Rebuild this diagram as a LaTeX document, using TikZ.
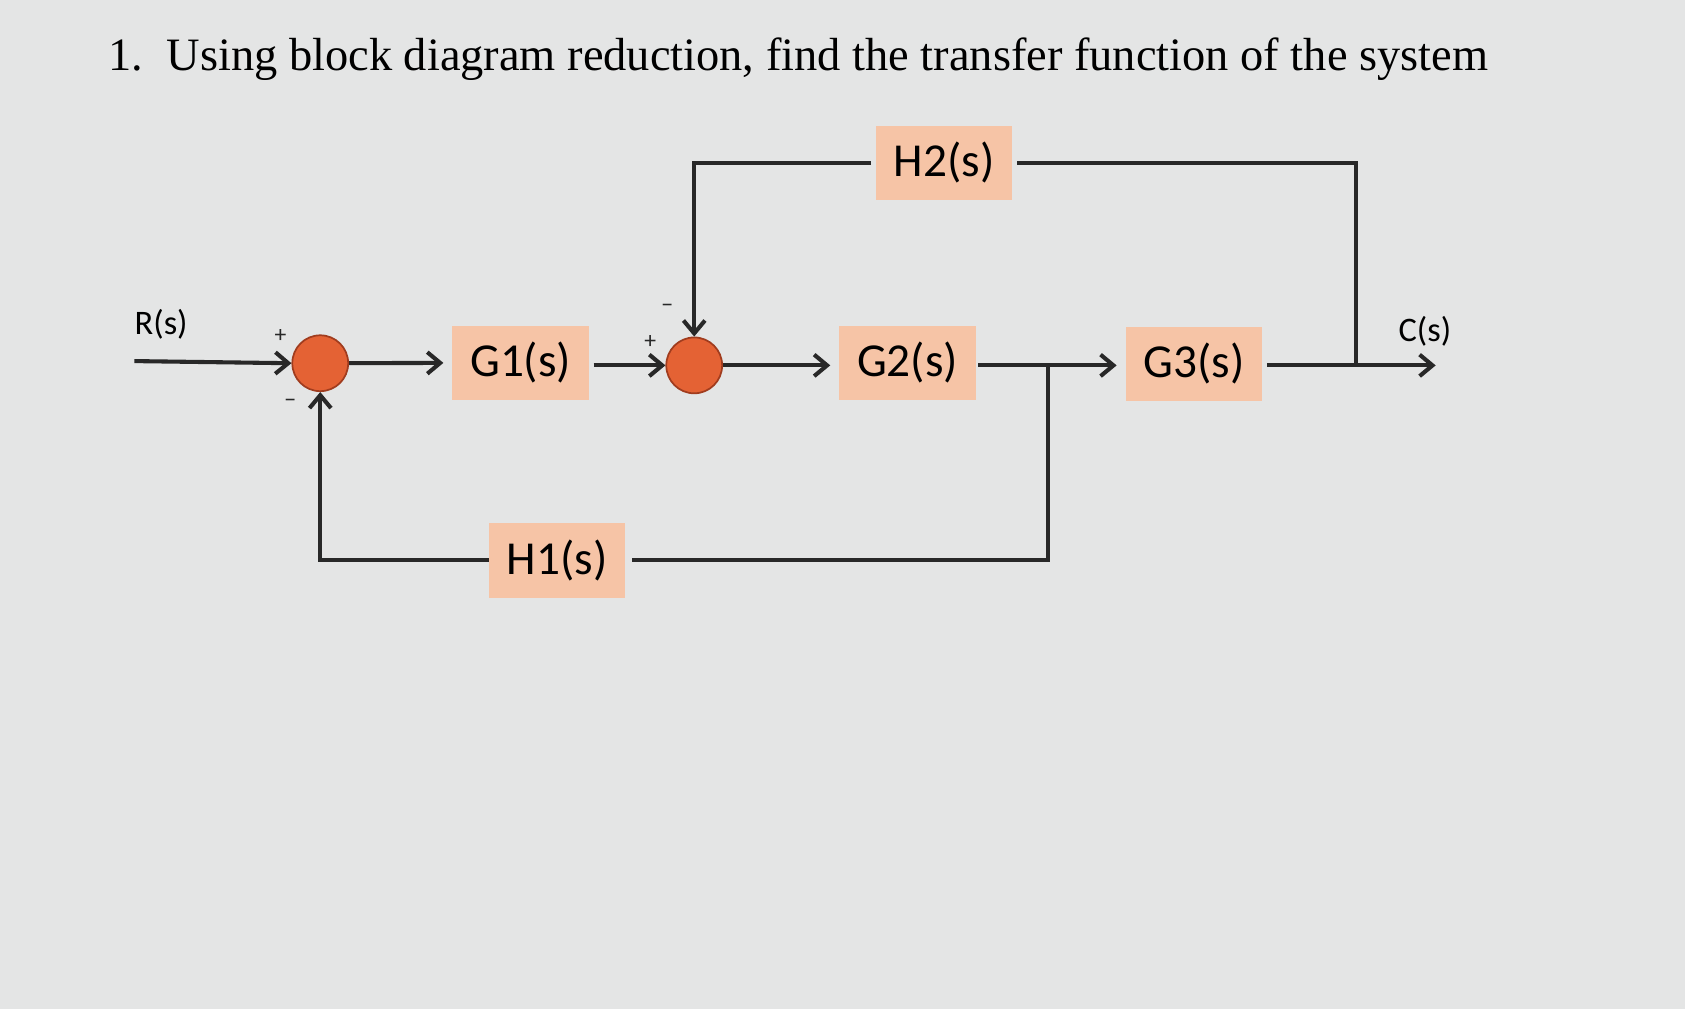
\documentclass[tikz,border=0pt]{standalone}
\usepackage{fontspec}
\setmainfont{Liberation Serif}
\newfontfamily\calib{Carlito}
\usetikzlibrary{arrows.meta}
\definecolor{bg}{RGB}{228,229,229}
\definecolor{peach}{RGB}{246,196,166}
\definecolor{sumc}{RGB}{228,98,52}
\definecolor{sumd}{RGB}{160,60,30}
\definecolor{ln}{RGB}{40,40,40}
\begin{document}
\begin{tikzpicture}[x=0.5pt,y=-0.5pt,
  blk/.style={fill=peach,minimum width=63.5pt,minimum height=34.5pt,inner sep=0pt,font=\calib\fontsize{22}{24}\selectfont},
  sumn/.style={circle,fill=sumc,draw=sumd,line width=0.8pt,minimum size=26pt,inner sep=0pt},
  wire/.style={draw=ln,line width=1.9pt},
  arr/.style={wire,-{Straight Barb[length=6pt,width=10pt,line width=1.9pt]}},
  lab/.style={font=\calib\fontsize{16}{18}\selectfont},
  sgn/.style={font=\calib\fontsize{11}{12}\selectfont,text=ln}]
\fill[bg] (0,0) rectangle (1568,939);
\useasboundingbox (0,0) rectangle (1568,939);
\node[anchor=base west,font=\fontsize{21.6}{26}\selectfont] (title) at (94,66) {1.\ \ Using block diagram reduction, find the transfer function of the system};
\node[sumn] (s1) at (298,338) {};
\node[sumn] (s2) at (646,340) {};
\node[blk] (g1) at (484.5,337.5) {G1(s)};
\node[blk] (g2) at (844.5,337.5) {G2(s)};
\node[blk] (g3) at (1111,338.5) {G3(s)};
\node[blk] (h2) at (878.5,151.5) {H2(s)};
\node[blk] (h1) at (518.5,521.5) {H1(s)};
\coordinate (rin) at (125,336);
\coordinate (cout) at (1336,340);
\coordinate (b1) at (975,340);
\coordinate (b2) at (1262,340);
\node[lab] (rl) at (150,302) {R(s)};
\node[lab] (cl) at (1326,308) {C(s)};
\node[sgn] (p1) at (261,313) {+};
\node[sgn] (m1) at (270,375) {−};
\node[sgn] (p2) at (605,318) {+};
\node[sgn] (m2) at (621,287) {−};
\draw[arr] (rin) -- (s1.west);
\draw[arr,shorten >=4pt] (s1) -- (g1);
\draw[arr,shorten <=2pt] (g1.east |- s2) -- (s2.west);
\draw[arr,shorten >=4pt] (s2) -- (g2.west |- s2);
\draw[wire,shorten <=1pt] (g2.east |- b1) -- (b1);
\draw[arr,shorten >=4pt] (b1) -- (g3.west |- b1);
\draw[arr,shorten <=2pt] (g3.east |- b2) -- (cout);
\draw[wire,shorten >=3pt] (b1) |- (h1.east);
\draw[arr] (h1.west) -| (s1.south);
\draw[wire,shorten >=2pt] (b2) |- (h2.east);
\draw[arr,shorten <=2pt] (h2.west) -| (s2.north);
\end{tikzpicture}
\end{document}
